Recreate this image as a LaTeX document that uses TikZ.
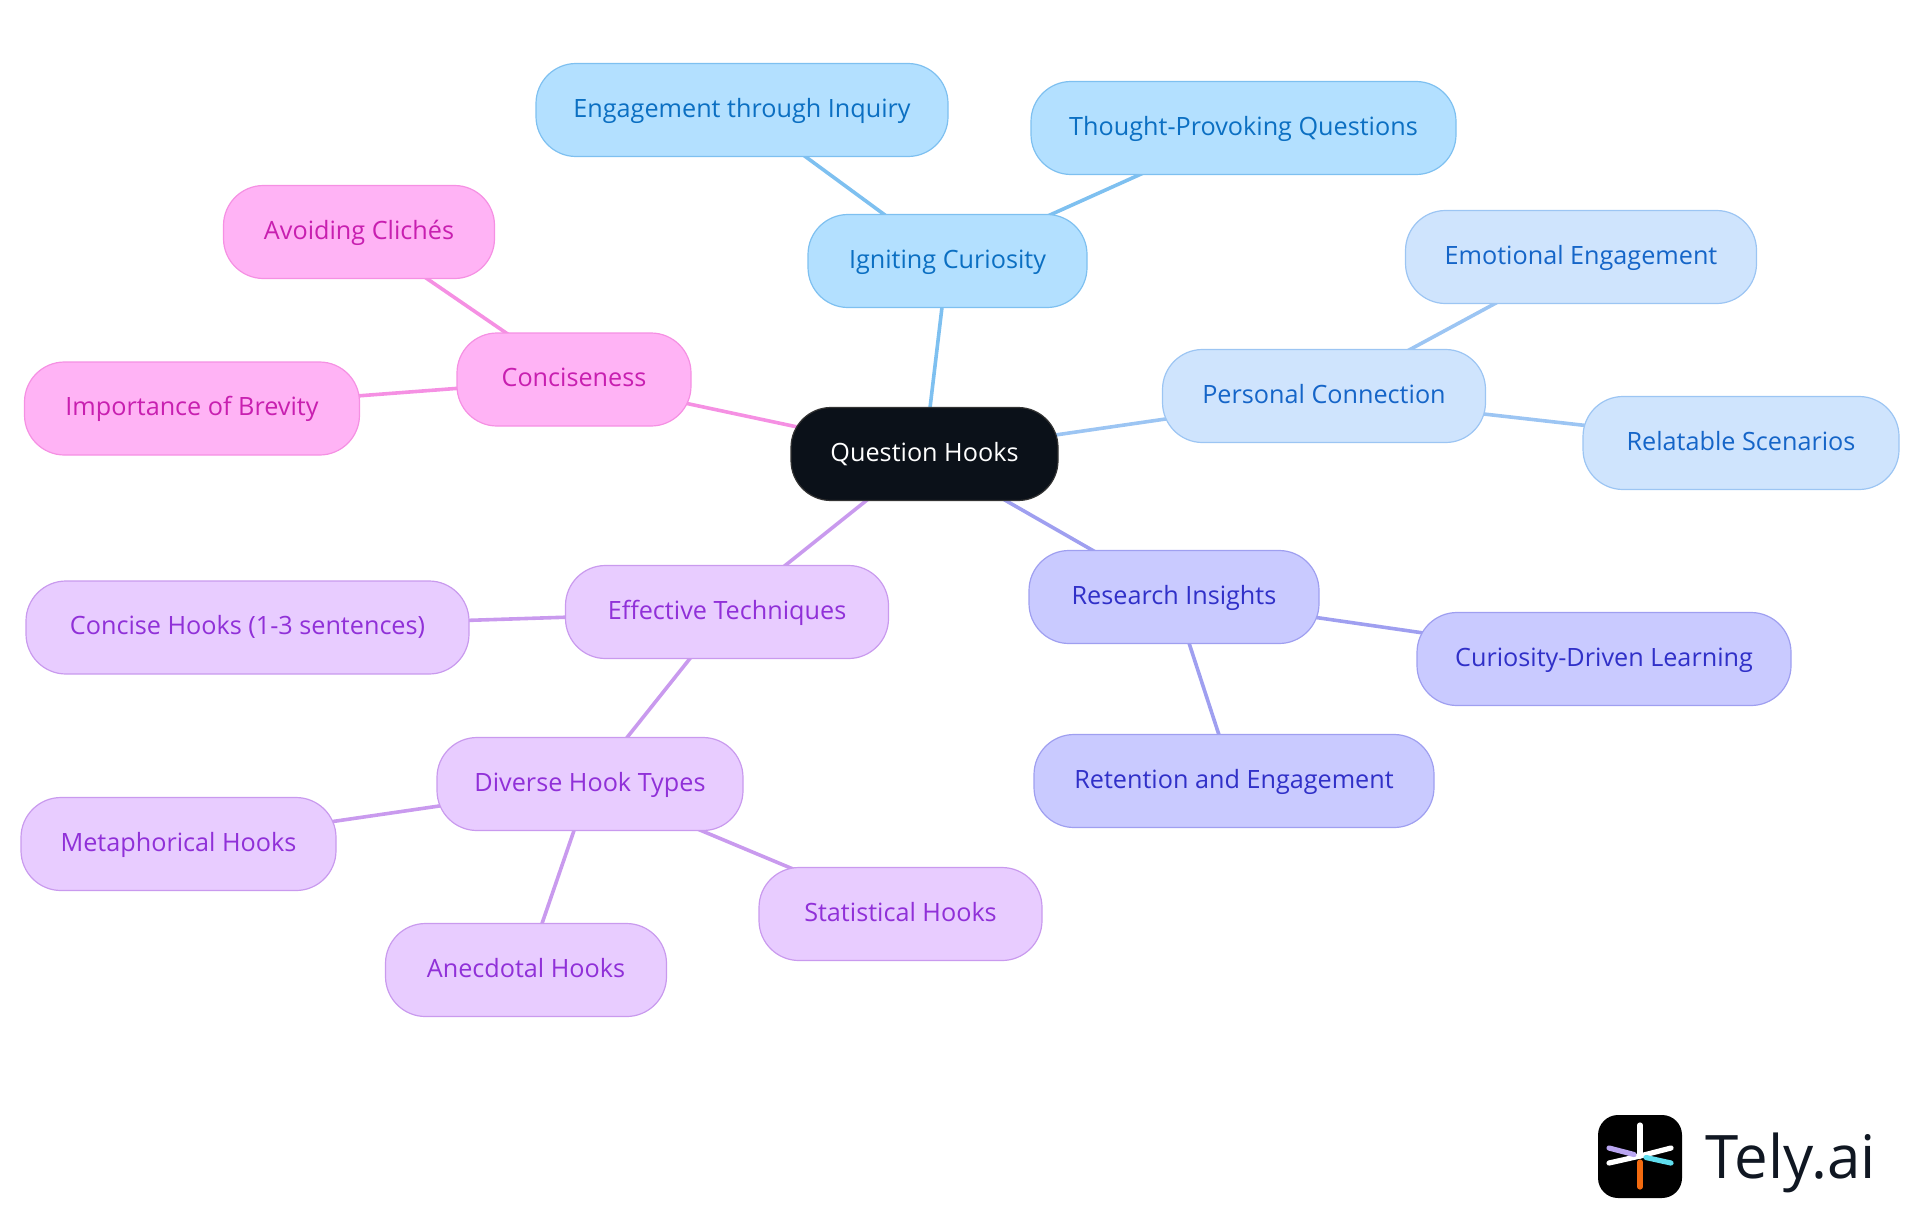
\documentclass[tikz,border=0pt]{standalone}
\usepackage{fontspec}
\setmainfont{Open Sans}
\usetikzlibrary{backgrounds}
\definecolor{igniteFill}{HTML}{B3E0FF}
\definecolor{igniteLine}{HTML}{7EC0F0}
\definecolor{igniteText}{HTML}{0B6FC2}
\definecolor{personFill}{HTML}{CFE4FD}
\definecolor{personLine}{HTML}{9CC5F3}
\definecolor{personText}{HTML}{1565C8}
\definecolor{researchFill}{HTML}{C9CAFF}
\definecolor{researchLine}{HTML}{9F9FF0}
\definecolor{researchText}{HTML}{3030C8}
\definecolor{effectFill}{HTML}{E8CCFF}
\definecolor{effectLine}{HTML}{C99AEE}
\definecolor{effectText}{HTML}{9030D8}
\definecolor{conciseFill}{HTML}{FFB3F5}
\definecolor{conciseLine}{HTML}{F590E3}
\definecolor{conciseText}{HTML}{C81FB0}
\definecolor{rootFill}{HTML}{0B1119}
\definecolor{logoInk}{HTML}{101722}
\definecolor{logoViolet}{HTML}{B9A5F0}
\definecolor{logoCyan}{HTML}{5FDDEE}
\definecolor{logoOrange}{HTML}{F26A0F}
\tikzset{
  hook/.style={rounded corners=20pt,line width=.6pt,minimum height=46.5pt,inner sep=0pt,text height=9.5pt,text depth=2.5pt,font=\fontsize{12.6pt}{15pt}\selectfont},
  hookroot/.style={hook,draw=black!80,fill=rootFill,text=white},
  hookignite/.style={hook,draw=igniteLine,fill=igniteFill,text=igniteText},
  hookperson/.style={hook,draw=personLine,fill=personFill,text=personText},
  hookresearch/.style={hook,draw=researchLine,fill=researchFill,text=researchText},
  hookeffect/.style={hook,draw=effectLine,fill=effectFill,text=effectText},
  hookconcise/.style={hook,draw=conciseLine,fill=conciseFill,text=conciseText},
  link/.style={line width=1.8pt},
  spoke/.style={line width=2.6pt,line cap=round}
}
\begin{document}
\begin{tikzpicture}[x=.5pt,y=-.5pt]
\useasboundingbox (0,0) rectangle (1920,1215);
\node [hookroot,minimum width=133.5pt] (Root) at (924.5,454) {Question Hooks};
\node [hookignite,minimum width=139.5pt] (Ignite) at (947.5,261) {Igniting Curiosity};
\node [hookignite,minimum width=206pt] (Inquiry) at (742,110) {Engagement through Inquiry};
\node [hookignite,minimum width=212.5pt] (Thought) at (1243.5,128) {Thought-Provoking Questions};
\node [hookperson,minimum width=161.5pt] (Person) at (1324,396) {Personal Connection};
\node [hookperson,minimum width=175.5pt] (Emotion) at (1581,257) {Emotional Engagement};
\node [hookperson,minimum width=158pt] (Relate) at (1741,443) {Relatable Scenarios};
\node [hookresearch,minimum width=145pt] (Research) at (1174,597) {Research Insights};
\node [hookresearch,minimum width=187pt] (Driven) at (1604,659) {Curiosity-Driven Learning};
\node [hookresearch,minimum width=200pt] (Retain) at (1234,781) {Retention and Engagement};
\node [hookeffect,minimum width=161.5pt] (Effect) at (727,612) {Effective Techniques};
\node [hookeffect,minimum width=221.5pt] (Sentence) at (247.5,627.5) {Concise Hooks (1-3 sentences)};
\node [hookeffect,minimum width=153pt] (Diverse) at (590,784) {Diverse Hook Types};
\node [hookeffect,minimum width=157.5pt] (Metaphor) at (178.5,844) {Metaphorical Hooks};
\node [hookeffect,minimum width=140.5pt] (Anecdote) at (526,970) {Anecdotal Hooks};
\node [hookeffect,minimum width=141.5pt] (Statistic) at (900.5,914) {Statistical Hooks};
\node [hookconcise,minimum width=117pt] (Concise) at (574,379.5) {Conciseness};
\node [hookconcise,minimum width=135.5pt] (Cliche) at (359,232) {Avoiding Clichés};
\node [hookconcise,minimum width=167.5pt] (Brevity) at (192,408.5) {Importance of Brevity};
\begin{pgfonlayer}{background}
\draw [link,igniteLine] (Root.center) -- (Ignite.center);
\draw [link,igniteLine] (Ignite.center) -- (Inquiry.center);
\draw [link,igniteLine] (Ignite.center) -- (Thought.center);
\draw [link,personLine] (Root.center) -- (Person.center);
\draw [link,personLine] (Person.center) -- (Emotion.center);
\draw [link,personLine] (Person.center) -- (Relate.center);
\draw [link,researchLine] (Root.center) -- (Research.center);
\draw [link,researchLine] (Research.center) -- (Driven.center);
\draw [link,researchLine] (Research.center) -- (Retain.center);
\draw [link,effectLine] (Root.center) -- (Effect.center);
\draw [link,effectLine] (Effect.center) -- (Sentence.center);
\draw [link,effectLine] (Effect.center) -- (Diverse.center);
\draw [link,effectLine] (Diverse.center) -- (Metaphor.center);
\draw [link,effectLine] (Diverse.center) -- (Anecdote.center);
\draw [link,effectLine] (Diverse.center) -- (Statistic.center);
\draw [link,conciseLine] (Root.center) -- (Concise.center);
\draw [link,conciseLine] (Concise.center) -- (Cliche.center);
\draw [link,conciseLine] (Concise.center) -- (Brevity.center);
\end{pgfonlayer}
\node [fill=black,rounded corners=10pt,minimum width=42pt,minimum height=41.5pt,inner sep=0pt] (Badge) at (1640,1156.5) {};
\coordinate (Hub) at (1640,1156);
\draw [spoke,white] (Hub) -- (1640,1125);
\draw [spoke,white] (Hub) -- (1671,1148);
\draw [spoke,white] (Hub) -- (1609,1163);
\draw [spoke,logoViolet] (1634,1154.5) -- (1609,1148);
\draw [spoke,logoCyan] (1646,1157.5) -- (1671,1163);
\draw [spoke,logoOrange] (1640,1162) -- (1640,1187);
\node [anchor=base west,inner sep=0pt,text=logoInk,font=\fontsize{30pt}{36pt}\selectfont] (Brand) at (1705,1178) {Tely.ai};
\end{tikzpicture}
\end{document}
